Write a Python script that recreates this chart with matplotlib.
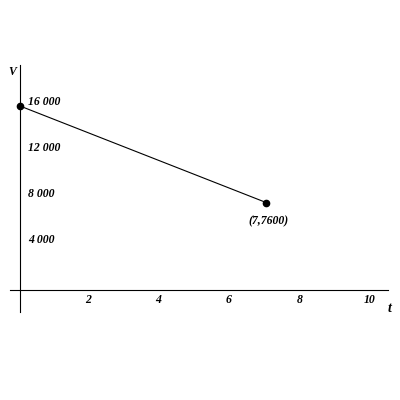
import matplotlib.pyplot as plt

# data
t_vals = [0, 7]
v_vals = [16000, 7600]
x_ticks = [2, 4, 6, 8, 10]
y_ticks = [4000, 8000, 12000, 16000]
y_tick_labels = ["4 000", "8 000", "12 000", "16 000"]

fig = plt.figure(figsize=(4, 4), dpi=100)
ax = fig.add_axes([0, 0, 1, 1])
ax.set_xlim(-0.568, 10.8)
ax.set_ylim(-9565, 25217)
ax.axis('off')

font = dict(family='Liberation Serif', weight='bold', style='italic', fontsize=8.5)

# axes lines
ax.plot([-0.28, 10.45], [0, 0], color='black', lw=0.8)
ax.plot([0, 0], [-1900, 19600], color='black', lw=0.8)

# line and points
ax.plot(t_vals, v_vals, color='black', lw=0.8)
ax.plot(t_vals, v_vals, 'o', color='black', ms=4.5)

for xt in x_ticks:
    ax.text(xt - 0.06, -870, str(xt), ha='center', va='center', **font)
for yt, lab in zip(y_ticks, y_tick_labels):
    ax.text(0.23, yt + 350, lab, ha='left', va='center', **font)

ax.text(-0.23, 18960, 'V', ha='center', va='center', **font)
ax.text(10.5, -1570, 't', ha='center', va='center', **dict(font, fontsize=10))
ax.text(7.05, 6000, '(7,7600)', ha='center', va='center', **font)

fig.savefig('out.png', dpi=100)
